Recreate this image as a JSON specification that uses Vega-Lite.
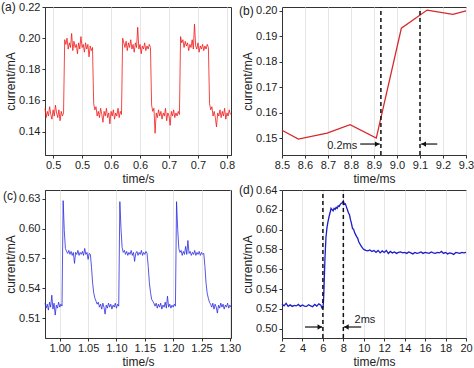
{
  "$schema": "https://vega.github.io/schema/vega-lite/v6.json",
  "background": "white",
  "padding": 0,
  "columns": 2,
  "spacing": {"row": 35, "column": 51},
  "bounds": "flush",
  "config": {
    "view": {"stroke": "#333333", "strokeWidth": 1},
    "axis": {"domainColor": "#333333", "tickColor": "#333333", "labelColor": "#222222", "titleColor": "#222222", "labelFont": "Liberation Sans", "titleFont": "Liberation Sans", "labelFontSize": 11, "titleFontSize": 12, "titleFontWeight": "normal", "tickSize": 3, "labelPadding": 2, "gridColor": "#e6e6e6", "labelOverlap": false, "labelFlush": false},
    "axisY": {"titlePadding": 1, "grid": false},
    "axisX": {"titlePadding": 3, "labelPadding": 1, "grid": true},
    "title": {"font": "Liberation Sans", "fontSize": 12, "fontWeight": "normal", "color": "#222222", "anchor": "start", "frame": "group", "offset": 0, "baseline": "middle", "dy": 17}
  },
  "concat": [
    {
      "width": 186, "height": 148,
      "title": {"text": "(a)", "dx": -44},
      "data": {"values": [
        {"t":0.486,"i":0.155},{"t":0.488,"i":0.149},{"t":0.490,"i":0.153},{"t":0.492,"i":0.150},{"t":0.494,"i":0.156},{"t":0.496,"i":0.151},{"t":0.498,"i":0.148},{"t":0.500,"i":0.154},{"t":0.502,"i":0.150},{"t":0.504,"i":0.157},{"t":0.506,"i":0.152},{"t":0.508,"i":0.149},{"t":0.510,"i":0.154},{"t":0.512,"i":0.147},{"t":0.514,"i":0.153},{"t":0.516,"i":0.150},{"t":0.518,"i":0.152},
        {"t":0.520,"i":0.199},{"t":0.522,"i":0.196},{"t":0.524,"i":0.200},{"t":0.526,"i":0.193},{"t":0.528,"i":0.197},{"t":0.530,"i":0.194},{"t":0.532,"i":0.203},{"t":0.534,"i":0.192},{"t":0.536,"i":0.198},{"t":0.538,"i":0.194},{"t":0.540,"i":0.196},{"t":0.542,"i":0.190},{"t":0.544,"i":0.197},{"t":0.546,"i":0.193},{"t":0.548,"i":0.201},{"t":0.550,"i":0.194},{"t":0.552,"i":0.196},{"t":0.554,"i":0.191},{"t":0.556,"i":0.197},{"t":0.558,"i":0.193},{"t":0.560,"i":0.196},{"t":0.562,"i":0.188},{"t":0.564,"i":0.195},{"t":0.566,"i":0.192},{"t":0.568,"i":0.194},
        {"t":0.570,"i":0.158},{"t":0.572,"i":0.154},{"t":0.574,"i":0.156},{"t":0.576,"i":0.150},{"t":0.578,"i":0.153},{"t":0.580,"i":0.149},{"t":0.582,"i":0.155},{"t":0.584,"i":0.151},{"t":0.586,"i":0.146},{"t":0.588,"i":0.153},{"t":0.590,"i":0.150},{"t":0.592,"i":0.155},{"t":0.594,"i":0.149},{"t":0.596,"i":0.152},{"t":0.598,"i":0.145},{"t":0.600,"i":0.153},{"t":0.602,"i":0.150},{"t":0.604,"i":0.154},{"t":0.606,"i":0.148},{"t":0.608,"i":0.152},{"t":0.610,"i":0.150},{"t":0.612,"i":0.155},{"t":0.614,"i":0.149},{"t":0.616,"i":0.153},{"t":0.618,"i":0.151},
        {"t":0.620,"i":0.200},{"t":0.622,"i":0.197},{"t":0.624,"i":0.194},{"t":0.626,"i":0.198},{"t":0.628,"i":0.192},{"t":0.630,"i":0.197},{"t":0.632,"i":0.194},{"t":0.634,"i":0.199},{"t":0.636,"i":0.193},{"t":0.638,"i":0.196},{"t":0.640,"i":0.191},{"t":0.642,"i":0.197},{"t":0.644,"i":0.194},{"t":0.646,"i":0.207},{"t":0.648,"i":0.193},{"t":0.650,"i":0.196},{"t":0.652,"i":0.190},{"t":0.654,"i":0.195},{"t":0.656,"i":0.193},{"t":0.658,"i":0.197},{"t":0.660,"i":0.192},{"t":0.662,"i":0.195},{"t":0.664,"i":0.193},{"t":0.666,"i":0.196},{"t":0.668,"i":0.194},
        {"t":0.670,"i":0.157},{"t":0.672,"i":0.153},{"t":0.674,"i":0.155},{"t":0.676,"i":0.139},{"t":0.678,"i":0.152},{"t":0.680,"i":0.149},{"t":0.682,"i":0.154},{"t":0.684,"i":0.150},{"t":0.686,"i":0.153},{"t":0.688,"i":0.148},{"t":0.690,"i":0.152},{"t":0.692,"i":0.150},{"t":0.694,"i":0.155},{"t":0.696,"i":0.147},{"t":0.698,"i":0.152},{"t":0.700,"i":0.150},{"t":0.702,"i":0.144},{"t":0.704,"i":0.153},{"t":0.706,"i":0.150},{"t":0.708,"i":0.154},{"t":0.710,"i":0.149},{"t":0.712,"i":0.152},{"t":0.714,"i":0.150},{"t":0.716,"i":0.153},{"t":0.718,"i":0.151},
        {"t":0.720,"i":0.201},{"t":0.722,"i":0.197},{"t":0.724,"i":0.199},{"t":0.726,"i":0.194},{"t":0.728,"i":0.198},{"t":0.730,"i":0.195},{"t":0.732,"i":0.197},{"t":0.734,"i":0.192},{"t":0.736,"i":0.196},{"t":0.738,"i":0.194},{"t":0.740,"i":0.199},{"t":0.742,"i":0.193},{"t":0.744,"i":0.209},{"t":0.746,"i":0.195},{"t":0.748,"i":0.193},{"t":0.750,"i":0.197},{"t":0.752,"i":0.191},{"t":0.754,"i":0.195},{"t":0.756,"i":0.193},{"t":0.758,"i":0.196},{"t":0.760,"i":0.192},{"t":0.762,"i":0.195},{"t":0.764,"i":0.193},{"t":0.766,"i":0.196},{"t":0.768,"i":0.194},
        {"t":0.770,"i":0.158},{"t":0.772,"i":0.154},{"t":0.774,"i":0.156},{"t":0.776,"i":0.150},{"t":0.778,"i":0.153},{"t":0.780,"i":0.149},{"t":0.782,"i":0.143},{"t":0.784,"i":0.152},{"t":0.786,"i":0.150},{"t":0.788,"i":0.154},{"t":0.790,"i":0.149},{"t":0.792,"i":0.153},{"t":0.794,"i":0.150},{"t":0.796,"i":0.155},{"t":0.798,"i":0.148},{"t":0.800,"i":0.152},{"t":0.802,"i":0.150},{"t":0.804,"i":0.154},{"t":0.806,"i":0.151}
      ]},
      "mark": {"type": "line", "color": "#f01818", "strokeWidth": 0.8},
      "encoding": {
        "x": {"field": "t", "type": "quantitative", "scale": {"domain": [0.486, 0.807], "nice": false, "zero": false}, "axis": {"title": "time/s", "labelOverlap": false, "values": [0.5, 0.55, 0.6, 0.65, 0.7, 0.75, 0.8], "labelExpr": "format(floor(datum.value*10+0.0001)/10, '.1f')"}},
        "y": {"field": "i", "type": "quantitative", "scale": {"domain": [0.125, 0.22], "nice": false, "zero": false}, "axis": {"title": "current/mA", "labelOverlap": false, "values": [0.14, 0.16, 0.18, 0.2, 0.22], "format": ".2f"}}
      }
    },
    {
      "width": 184, "height": 148,
      "title": {"text": "(b)", "dx": -43},
      "encoding": {
        "x": {"field": "t", "type": "quantitative", "scale": {"domain": [8.5, 9.3], "nice": false, "zero": false}, "axis": {"title": "time/ms", "labelOverlap": false, "values": [8.5, 8.6, 8.7, 8.8, 8.9, 9.0, 9.1, 9.2, 9.3], "format": ".1f"}},
        "y": {"field": "i", "type": "quantitative", "scale": {"domain": [0.1435, 0.2015], "nice": false, "zero": false}, "axis": {"title": "current/mA", "labelOverlap": false, "values": [0.15, 0.16, 0.17, 0.18, 0.19, 0.2], "format": ".2f"}}
      },
      "layer": [
        {
          "data": {"values": [
            {"t":8.5,"i":0.1532},{"t":8.571,"i":0.1497},{"t":8.696,"i":0.1521},{"t":8.796,"i":0.1554},{"t":8.91,"i":0.1501},{"t":9.019,"i":0.1932},{"t":9.131,"i":0.2003},{"t":9.243,"i":0.1986},{"t":9.3,"i":0.2000}
          ]},
          "mark": {"type": "line", "color": "#d8272b", "strokeWidth": 1.3}
        },
        {
          "data": {"values": [{"t": 8.93, "i": 0.1435, "i2": 0.2015}, {"t": 9.1, "i": 0.1435, "i2": 0.2015}]},
          "mark": {"type": "rule", "color": "#111111", "strokeWidth": 1.5, "strokeDash": [4, 3]},
          "encoding": {"y2": {"field": "i2"}}
        },
        {
          "data": {"values": [{"t": 8.84, "t2": 8.925, "i": 0.1478}, {"t": 9.175, "t2": 9.105, "i": 0.1478}]},
          "mark": {"type": "rule", "color": "#111111", "strokeWidth": 1.2},
          "encoding": {"x2": {"field": "t2"}}
        },
        {
          "data": {"values": [{"t": 8.914, "i": 0.1478, "dir": "right"}, {"t": 9.116, "i": 0.1478, "dir": "left"}]},
          "mark": {"type": "point", "filled": true, "color": "#111111", "size": 28, "opacity": 1},
          "encoding": {"shape": {"field": "dir", "type": "nominal", "scale": {"domain": ["right", "left"], "range": ["triangle-right", "triangle-left"]}, "legend": null}}
        },
        {
          "data": {"values": [{"t": 8.84, "i": 0.1478, "label": "0.2ms"}]},
          "mark": {"type": "text", "align": "right", "baseline": "middle", "dx": -3, "dy": 2, "font": "Liberation Sans", "fontSize": 11, "color": "#222222"},
          "encoding": {"text": {"field": "label"}}
        }
      ]
    },
    {
      "width": 186, "height": 148,
      "title": {"text": "(c)", "dx": -42},
      "data": {"values": [
        {"t":0.974,"i":0.525},{"t":0.976,"i":0.520},{"t":0.978,"i":0.524},{"t":0.980,"i":0.518},{"t":0.982,"i":0.526},{"t":0.984,"i":0.521},{"t":0.986,"i":0.533},{"t":0.988,"i":0.519},{"t":0.990,"i":0.525},{"t":0.992,"i":0.513},{"t":0.994,"i":0.523},{"t":0.996,"i":0.520},{"t":0.998,"i":0.526},{"t":1.000,"i":0.521},{"t":1.002,"i":0.524},{"t":1.004,"i":0.522},
        {"t":1.006,"i":0.628},{"t":1.008,"i":0.598},{"t":1.010,"i":0.580},{"t":1.012,"i":0.577},{"t":1.014,"i":0.575},{"t":1.016,"i":0.578},{"t":1.018,"i":0.574},{"t":1.020,"i":0.577},{"t":1.022,"i":0.573},{"t":1.024,"i":0.576},{"t":1.026,"i":0.565},{"t":1.028,"i":0.576},{"t":1.030,"i":0.574},{"t":1.032,"i":0.578},{"t":1.034,"i":0.573},{"t":1.036,"i":0.576},{"t":1.038,"i":0.574},{"t":1.040,"i":0.577},{"t":1.042,"i":0.573},{"t":1.044,"i":0.580},{"t":1.046,"i":0.574},{"t":1.048,"i":0.576},{"t":1.050,"i":0.569},{"t":1.052,"i":0.575},{"t":1.054,"i":0.574},
        {"t":1.056,"i":0.561},{"t":1.058,"i":0.545},{"t":1.060,"i":0.535},{"t":1.062,"i":0.530},{"t":1.064,"i":0.527},{"t":1.066,"i":0.524},{"t":1.068,"i":0.526},{"t":1.070,"i":0.521},{"t":1.072,"i":0.524},{"t":1.074,"i":0.519},{"t":1.076,"i":0.525},{"t":1.078,"i":0.521},{"t":1.080,"i":0.514},{"t":1.082,"i":0.523},{"t":1.084,"i":0.520},{"t":1.086,"i":0.525},{"t":1.088,"i":0.521},{"t":1.090,"i":0.524},{"t":1.092,"i":0.519},{"t":1.094,"i":0.523},{"t":1.096,"i":0.521},{"t":1.098,"i":0.525},{"t":1.100,"i":0.520},{"t":1.102,"i":0.524},{"t":1.104,"i":0.522},
        {"t":1.106,"i":0.627},{"t":1.108,"i":0.600},{"t":1.110,"i":0.581},{"t":1.112,"i":0.576},{"t":1.114,"i":0.578},{"t":1.116,"i":0.574},{"t":1.118,"i":0.577},{"t":1.120,"i":0.573},{"t":1.122,"i":0.576},{"t":1.124,"i":0.574},{"t":1.126,"i":0.578},{"t":1.128,"i":0.573},{"t":1.130,"i":0.576},{"t":1.132,"i":0.567},{"t":1.134,"i":0.575},{"t":1.136,"i":0.577},{"t":1.138,"i":0.573},{"t":1.140,"i":0.576},{"t":1.142,"i":0.574},{"t":1.144,"i":0.578},{"t":1.146,"i":0.573},{"t":1.148,"i":0.576},{"t":1.150,"i":0.574},{"t":1.152,"i":0.577},{"t":1.154,"i":0.575},
        {"t":1.156,"i":0.562},{"t":1.158,"i":0.546},{"t":1.160,"i":0.536},{"t":1.162,"i":0.529},{"t":1.164,"i":0.527},{"t":1.166,"i":0.525},{"t":1.168,"i":0.522},{"t":1.170,"i":0.525},{"t":1.172,"i":0.520},{"t":1.174,"i":0.524},{"t":1.176,"i":0.521},{"t":1.178,"i":0.525},{"t":1.180,"i":0.519},{"t":1.182,"i":0.523},{"t":1.184,"i":0.521},{"t":1.186,"i":0.526},{"t":1.188,"i":0.520},{"t":1.190,"i":0.532},{"t":1.192,"i":0.521},{"t":1.194,"i":0.524},{"t":1.196,"i":0.520},{"t":1.198,"i":0.523},{"t":1.200,"i":0.521},{"t":1.202,"i":0.524},{"t":1.204,"i":0.522},
        {"t":1.206,"i":0.627},{"t":1.208,"i":0.599},{"t":1.210,"i":0.580},{"t":1.212,"i":0.576},{"t":1.214,"i":0.578},{"t":1.216,"i":0.573},{"t":1.218,"i":0.577},{"t":1.220,"i":0.574},{"t":1.222,"i":0.582},{"t":1.224,"i":0.574},{"t":1.226,"i":0.588},{"t":1.228,"i":0.575},{"t":1.230,"i":0.577},{"t":1.232,"i":0.573},{"t":1.234,"i":0.576},{"t":1.236,"i":0.574},{"t":1.238,"i":0.578},{"t":1.240,"i":0.573},{"t":1.242,"i":0.576},{"t":1.244,"i":0.574},{"t":1.246,"i":0.577},{"t":1.248,"i":0.573},{"t":1.250,"i":0.576},{"t":1.252,"i":0.574},{"t":1.254,"i":0.575},
        {"t":1.256,"i":0.562},{"t":1.258,"i":0.545},{"t":1.260,"i":0.535},{"t":1.262,"i":0.530},{"t":1.264,"i":0.526},{"t":1.266,"i":0.524},{"t":1.268,"i":0.521},{"t":1.270,"i":0.525},{"t":1.272,"i":0.519},{"t":1.274,"i":0.524},{"t":1.276,"i":0.521},{"t":1.278,"i":0.515},{"t":1.280,"i":0.523},{"t":1.282,"i":0.520},{"t":1.284,"i":0.525},{"t":1.286,"i":0.521},{"t":1.288,"i":0.524},{"t":1.290,"i":0.519},{"t":1.292,"i":0.523},{"t":1.294,"i":0.521},{"t":1.296,"i":0.525},{"t":1.298,"i":0.520},{"t":1.300,"i":0.523},{"t":1.302,"i":0.521}
      ]},
      "mark": {"type": "line", "color": "#2b2be0", "strokeWidth": 0.8},
      "encoding": {
        "x": {"field": "t", "type": "quantitative", "scale": {"domain": [0.974, 1.302], "nice": false, "zero": false}, "axis": {"title": "time/s", "labelOverlap": false, "values": [1.0, 1.05, 1.1, 1.15, 1.2, 1.25, 1.3], "format": ".2f"}},
        "y": {"field": "i", "type": "quantitative", "scale": {"domain": [0.49, 0.6387], "nice": false, "zero": false}, "axis": {"title": "current/mA", "labelOverlap": false, "values": [0.51, 0.54, 0.57, 0.6, 0.63], "format": ".2f"}}
      }
    },
    {
      "width": 184, "height": 148,
      "title": {"text": "(d)", "dx": -43},
      "encoding": {
        "x": {"field": "t", "type": "quantitative", "scale": {"domain": [2, 20], "nice": false, "zero": false}, "axis": {"title": "time/ms", "labelOverlap": false, "values": [2, 4, 6, 8, 10, 12, 14, 16, 18, 20], "format": "d"}},
        "y": {"field": "i", "type": "quantitative", "scale": {"domain": [0.4906, 0.64], "nice": false, "zero": false}, "axis": {"title": "current/mA", "labelOverlap": false, "values": [0.5, 0.52, 0.54, 0.56, 0.58, 0.6, 0.62, 0.64], "format": ".2f"}}
      },
      "layer": [
        {
          "data": {"values": [
            {"t":2.0,"i":0.5250},{"t":2.2,"i":0.5230},{"t":2.4,"i":0.5255},{"t":2.6,"i":0.5225},{"t":2.8,"i":0.5240},{"t":3.0,"i":0.5225},{"t":3.2,"i":0.5235},{"t":3.4,"i":0.5230},{"t":3.6,"i":0.5245},{"t":3.8,"i":0.5225},{"t":4.0,"i":0.5240},{"t":4.2,"i":0.5228},{"t":4.4,"i":0.5225},{"t":4.6,"i":0.5242},{"t":4.8,"i":0.5230},{"t":5.0,"i":0.5222},{"t":5.2,"i":0.5245},{"t":5.4,"i":0.5228},{"t":5.6,"i":0.5250},{"t":5.8,"i":0.5238},{"t":5.9,"i":0.5210},{"t":6.0,"i":0.5212},{"t":6.05,"i":0.5260},{"t":6.1,"i":0.5380},{"t":6.2,"i":0.5700},{"t":6.3,"i":0.5920},{"t":6.4,"i":0.6020},{"t":6.5,"i":0.6080},{"t":6.6,"i":0.6130},{"t":6.7,"i":0.6170},{"t":6.8,"i":0.6215},{"t":6.9,"i":0.6200},{"t":7.0,"i":0.6190},{"t":7.1,"i":0.6215},{"t":7.2,"i":0.6205},{"t":7.3,"i":0.6225},{"t":7.4,"i":0.6215},{"t":7.5,"i":0.6240},{"t":7.6,"i":0.6235},{"t":7.7,"i":0.6255},{"t":7.8,"i":0.6265},{"t":7.9,"i":0.6270},{"t":8.0,"i":0.6290},{"t":8.1,"i":0.6255},{"t":8.2,"i":0.6260},{"t":8.3,"i":0.6230},{"t":8.4,"i":0.6200},{"t":8.5,"i":0.6170},{"t":8.6,"i":0.6150},{"t":8.7,"i":0.6100},{"t":8.8,"i":0.6060},{"t":8.9,"i":0.6010},{"t":9.0,"i":0.6005},{"t":9.1,"i":0.5970},{"t":9.2,"i":0.5950},{"t":9.3,"i":0.5930},{"t":9.4,"i":0.5915},{"t":9.5,"i":0.5880},{"t":9.6,"i":0.5860},{"t":9.7,"i":0.5840},{"t":9.8,"i":0.5825},{"t":9.9,"i":0.5810},{"t":10.0,"i":0.5800},{"t":10.2,"i":0.5790},{"t":10.4,"i":0.5785},{"t":10.6,"i":0.5795},{"t":10.8,"i":0.5780},{"t":11.0,"i":0.5790},{"t":11.2,"i":0.5770},{"t":11.4,"i":0.5790},{"t":11.6,"i":0.5765},{"t":11.8,"i":0.5785},{"t":12.0,"i":0.5770},{"t":12.2,"i":0.5790},{"t":12.4,"i":0.5760},{"t":12.6,"i":0.5780},{"t":12.8,"i":0.5765},{"t":13.0,"i":0.5775},{"t":13.2,"i":0.5760},{"t":13.4,"i":0.5770},{"t":13.6,"i":0.5775},{"t":13.8,"i":0.5765},{"t":14.0,"i":0.5770},{"t":14.2,"i":0.5760},{"t":14.4,"i":0.5775},{"t":14.6,"i":0.5765},{"t":14.8,"i":0.5755},{"t":15.0,"i":0.5770},{"t":15.2,"i":0.5760},{"t":15.4,"i":0.5765},{"t":15.6,"i":0.5775},{"t":15.8,"i":0.5760},{"t":16.0,"i":0.5770},{"t":16.2,"i":0.5765},{"t":16.4,"i":0.5760},{"t":16.6,"i":0.5775},{"t":16.8,"i":0.5765},{"t":17.0,"i":0.5760},{"t":17.2,"i":0.5770},{"t":17.4,"i":0.5765},{"t":17.6,"i":0.5780},{"t":17.8,"i":0.5760},{"t":18.0,"i":0.5770},{"t":18.2,"i":0.5755},{"t":18.4,"i":0.5765},{"t":18.6,"i":0.5760},{"t":18.8,"i":0.5750},{"t":19.0,"i":0.5770},{"t":19.2,"i":0.5765},{"t":19.4,"i":0.5760},{"t":19.6,"i":0.5770},{"t":19.8,"i":0.5765},{"t":20.0,"i":0.5770}
          ]},
          "mark": {"type": "line", "color": "#1c1cc8", "strokeWidth": 1.3}
        },
        {
          "data": {"values": [{"t": 6, "i": 0.4906, "i2": 0.64}, {"t": 8, "i": 0.4906, "i2": 0.64}]},
          "mark": {"type": "rule", "color": "#111111", "strokeWidth": 1.5, "strokeDash": [4, 3]},
          "encoding": {"y2": {"field": "i2"}}
        },
        {
          "data": {"values": [{"t": 4.25, "t2": 5.93, "i": 0.5017}, {"t": 9.75, "t2": 8.07, "i": 0.5017}]},
          "mark": {"type": "rule", "color": "#111111", "strokeWidth": 1.2},
          "encoding": {"x2": {"field": "t2"}}
        },
        {
          "data": {"values": [{"t": 5.7, "i": 0.5017, "dir": "right"}, {"t": 8.3, "i": 0.5017, "dir": "left"}]},
          "mark": {"type": "point", "filled": true, "color": "#111111", "size": 28, "opacity": 1},
          "encoding": {"shape": {"field": "dir", "type": "nominal", "scale": {"domain": ["right", "left"], "range": ["triangle-right", "triangle-left"]}, "legend": null}}
        },
        {
          "data": {"values": [{"t": 9.1, "i": 0.5084, "label": "2ms"}]},
          "mark": {"type": "text", "align": "left", "baseline": "middle", "font": "Liberation Sans", "fontSize": 11, "color": "#222222"},
          "encoding": {"text": {"field": "label"}}
        }
      ]
    }
  ]
}
